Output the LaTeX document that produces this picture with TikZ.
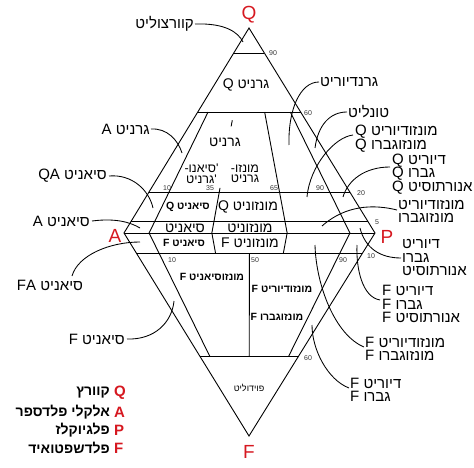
\documentclass[tikz,border=0pt]{standalone}
\usepackage{fontspec}
\setmainfont{Liberation Sans}
\newfontfamily\hebfont[Script=Hebrew]{Liberation Sans}
\TeXXeTstate=1
\usetikzlibrary{calc}
\definecolor{vred}{RGB}{214,24,32}
\newcommand{\hb}[1]{\beginR #1\endR}
\newcommand{\LL}[1]{\beginL #1\endL{}}
\begin{document}
\begin{tikzpicture}[x=1pt,y=-1pt,
  edge/.style={line width=0.9pt, black},
  lead/.style={line width=0.85pt, black},
  outer/.style={font=\hebfont\fontsize{15}{13.5}\selectfont, inner sep=0pt, align=left},
  inner/.style={font=\hebfont\fontsize{14}{10}\selectfont, inner sep=0pt, align=center},
  pair/.style={font=\hebfont\fontsize{12.5}{10.5}\selectfont, inner sep=0pt, align=center},
  small/.style={font=\hebfont\bfseries\fontsize{10.5}{10}\selectfont, inner sep=0pt},
  num/.style={font=\fontsize{7}{7}\selectfont, inner sep=0pt, text=black!80},
  vtx/.style={font=\fontsize{19}{19}\selectfont, text=vred, inner sep=0pt},
  legend/.style={font=\hebfont\bfseries\fontsize{14}{14}\selectfont, inner sep=0pt, anchor=east},
  legletter/.style={font=\bfseries\fontsize{15}{15}\selectfont, text=vred, inner sep=0pt}
]
\useasboundingbox (0,0) rectangle (474,468);
% vertices
\coordinate (Q) at (249,28);
\coordinate (A) at (124,233);
\coordinate (P) at (375,233);
\coordinate (F) at (249,436);
% horizontal levels
\coordinate (q90a) at ($(Q)!0.122!(A)$); \coordinate (q90p) at ($(Q)!0.122!(P)$);
\coordinate (q60a) at ($(Q)!0.41!(A)$);  \coordinate (q60p) at ($(Q)!0.41!(P)$);
\coordinate (q20a) at ($(Q)!0.8!(A)$);   \coordinate (q20p) at ($(Q)!0.8!(P)$);
\coordinate (q5a) at ($(Q)!0.946!(A)$);  \coordinate (q5p) at ($(Q)!0.946!(P)$);
\coordinate (f10a) at ($(A)!0.103!(F)$); \coordinate (f10p) at ($(P)!0.103!(F)$);
\coordinate (f60a) at ($(A)!0.606!(F)$); \coordinate (f60p) at ($(P)!0.606!(F)$);
% radial points on A-P
\foreach \r/\t in {10/0.1,35/0.35,50/0.5,65/0.65,90/0.9}{
  \coordinate (r\r) at ($(A)!\t!(P)$);
  \coordinate (u\r) at ($(Q)!0.41!(r\r)$);
  \coordinate (l\r) at ($(r\r)!0.103!(F)$);
  \coordinate (m\r) at ($(r\r)!0.606!(F)$);
}
% outline and lines
\draw[edge] (Q) -- (A) -- (F) -- (P) -- cycle;
\draw[edge] (q90a) -- (q90p);
\draw[edge] (q60a) -- (q60p);
\draw[edge] (q20a) -- (q20p);
\draw[edge] (q5a) -- (q5p);
\draw[edge] (A) -- (P);
\draw[edge] (f10a) -- (f10p);
\draw[edge] (f60a) -- (f60p);
\draw[edge] (u10) -- (r10) -- (m10);
\draw[edge] ($(Q)!0.45!(r35)$) -- ($(Q)!0.48!(r35)$);
\draw[edge] ($(Q)!0.78!(r35)$) -- (r35) -- (l35);
\draw[edge] (u65) -- (r65) -- (l65);
\draw[edge] (u90) -- (r90) -- (m90);
\draw[edge] (l50) -- (m50);
% numbers
\node[num] (n90a) at (273,53) {90};
\node[num] (n60) at (308,113) {60};
\node[num] (n10a) at (167,188) {10};
\node[num] (n35) at (210,188.5) {35};
\node[num] (n65) at (274,188) {65};
\node[num] (n90b) at (320,188) {90};
\node[num] (n20) at (361,193) {20};
\node[num] (n5) at (377,222) {5};
\node[num] (n10b) at (172,260) {10};
\node[num] (n50) at (255,260) {50};
\node[num] (n90c) at (343,260) {90};
\node[num] (n10c) at (371,256) {10};
\node[num] (n60b) at (308,358) {60};
% vertex labels
\node[vtx] (vQ) at (249,15) {Q};
\node[vtx] (vA) at (115,236) {A};
\node[vtx] (vP) at (387,237) {P};
\node[vtx] (vF) at (249,452) {F};
% inner texts
\node[inner] (tQg) at (246,85) {\hb{גרניט Q}};
\node[inner] (tG) at (225,142) {\hb{גרניט}};
\node[pair] (tSg) at (201.5,174) {-\hbox{סיאנו}'\\\hbox{גרניט}'};
\node[pair] (tMg) at (245,174) {\hb{מונזו-}\\\hb{גרניט}};
\node[small] (tQs) at (188,207) {\hb{סיאניט Q}};
\node[inner] (tQm) at (248,207) {\hb{מונזוניט Q}};
\node[inner] (tS) at (185,228) {\hb{סיאניט}};
\node[inner] (tM) at (250,228) {\hb{מונזוניט}};
\node[small] (tFs) at (184,243) {\hb{סיאניט F}};
\node[inner] (tFm) at (250,243) {\hb{מונזוניט F}};
\node[small] (tFms) at (212,277) {\hb{מונזוסיאניט F}};
\node[small] (tFmd) at (282,289) {\hb{מונזודיוריט F}};
\node[small] (tFmg) at (277,317) {\hb{מונזוגברו F}};
\node[font=\hebfont\fontsize{9}{9}\selectfont, inner sep=0pt] (tFoid) at (249,388) {\hb{פוידוליט}};
% outer labels right
\node[outer, anchor=east] (lQz) at (194,24) {\hb{קוורצוליט}};
\coordinate (eQz) at (243,42);
\draw[lead] ([xshift=1pt]lQz.east) .. controls (225,23) and (238,32) .. (eQz);
\node[outer, anchor=west] (lGd) at (320,82) {\hb{גרנדיוריט}};
\coordinate (eGd) at (289,145);
\draw[lead] ([xshift=-1pt]lGd.west) .. controls (300,82) and (288,110) .. (eGd);
\node[outer, anchor=west] (lTon) at (348,112) {\hb{טונליט}};
\coordinate (eTon) at (315,148);
\draw[lead] ([xshift=-1pt]lTon.west) .. controls (330,112) and (318,125) .. (eTon);
\node[outer, anchor=west] (lQmd) at (355,138.5) {\hb{מונזודיוריט Q}\\\hb{מונזוגברו Q}};
\coordinate (eQmd) at (307,197);
\draw[lead] (353,135) .. controls (335,137) and (310,165) .. (eQmd);
\node[outer, anchor=west] (lQd) at (392,174) {\hb{דיוריט Q}\\\hb{גברו Q}\\\hb{אנורתוסיט Q}};
\coordinate (eQd) at (343,197);
\draw[lead] (390,167) .. controls (365,167) and (348,180) .. (eQd);
\node[outer, anchor=west] (lMd) at (398,211.5) {\hb{מונזודיוריט}\\\hb{מונזוגברו}};
\coordinate (eMd) at (322,226);
\draw[lead] (397,210) .. controls (365,202) and (340,210) .. (eMd);
\node[outer, anchor=west] (lD) at (402,258) {\hb{דיוריט}\\\hb{גברו}\\\hb{אנורתוסיט}};
\coordinate (eD) at (360,228);
\draw[lead] (401,258) .. controls (380,258) and (365,248) .. (eD);
\node[outer, anchor=west] (lFd) at (382,304) {\hb{דיוריט F}\\\hb{גברו F}\\\hb{אנורתוסיט F}};
\coordinate (eFd) at (357,245);
\draw[lead] (380,300) .. controls (362,297) and (356,268) .. (eFd);
\node[outer, anchor=west] (lFmd) at (365,349) {\hb{מונזודיוריט F}\\\hb{מונזוגברו F}};
\coordinate (eFmd) at (315,245);
\draw[lead] (364,347) .. controls (335,335) and (316,285) .. (eFmd);
\node[outer, anchor=west] (lFdg) at (350,390) {\hb{דיוריט F}\\\hb{גברו F}};
\coordinate (eFdg) at (312,325);
\draw[lead] (349,388) .. controls (328,380) and (312,350) .. (eFdg);
% outer labels left
\node[outer, anchor=east] (lAg) at (150,129) {\hb{גרניט A}};
\coordinate (eAg) at (182,153);
\draw[lead] ([xshift=1pt]lAg.east) .. controls (167,128) and (178,140) .. (eAg);
\node[outer, anchor=east] (lQAs) at (107,176) {\hb{סיאניט \LL{QA}}};
\coordinate (eQAs) at (153,208);
\draw[lead] ([xshift=2pt]lQAs.east) .. controls (132,174) and (149,190) .. (eQAs);
\node[outer, anchor=east] (lAs) at (90,221) {\hb{סיאניט A}};
\coordinate (eAs) at (140,228);
\draw[lead] ([xshift=2pt]lAs.east) .. controls (115,218) and (130,222) .. (eAs);
\node[outer] (lFAs) at (50,285) {\hb{סיאניט \LL{FA}}};
\coordinate (eFAs) at (140,242);
\draw[lead] (72,276) .. controls (78,255) and (110,242) .. (eFAs);
\node[outer, anchor=east] (lFs) at (125,339) {\hb{סיאניט F}};
\coordinate (eFs) at (174,301);
\draw[lead] ([xshift=2pt]lFs.east) .. controls (155,340) and (172,322) .. (eFs);
% legend
\node[legend] (g1) at (110,393) {\hb{קוורץ}};
\node[legletter, anchor=west] (k1) at (114,393) {Q};
\node[legend] (g2) at (110,412) {\hb{אלקלי פלדספר}};
\node[legletter, anchor=west] (k2) at (114,412) {A};
\node[legend] (g3) at (110,430) {\hb{פלגיוקלז}};
\node[legletter, anchor=west] (k3) at (114,430) {P};
\node[legend] (g4) at (110,448) {\hb{פלדשפטואיד}};
\node[legletter, anchor=west] (k4) at (114,448) {F};
\end{tikzpicture}
\end{document}
